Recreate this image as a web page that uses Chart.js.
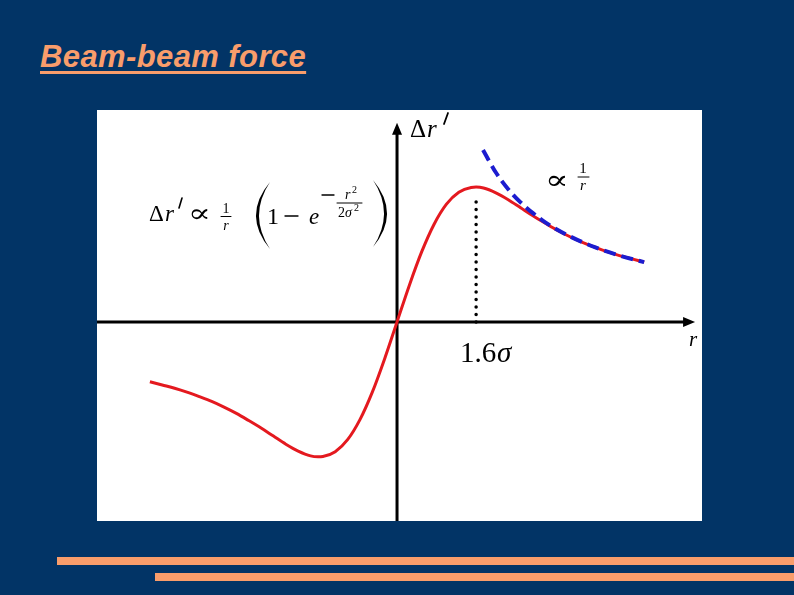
<!DOCTYPE html>
<html>
<head>
<meta charset="utf-8">
<script src="https://cdn.jsdelivr.net/npm/chart.js@4.4.1/dist/chart.umd.min.js"></script>
<style>
  body { margin: 0; width: 794px; height: 595px; background: #023466; position: relative; overflow: hidden; }
  #title { position: absolute; left: 40px; top: 39px; font: italic bold 31px "Liberation Sans", Arial, sans-serif; letter-spacing: 0.4px; color: #f99d6b; text-decoration: underline; text-decoration-thickness: 3px; text-underline-offset: 4px; }
  #plot { position: absolute; left: 97px; top: 110px; width: 605px; height: 411px; background: #fff; }
  .bar { position: absolute; right: 0; height: 8px; background: #f99d6b; }
</style>
</head>
<body>
<div id="title">Beam-beam force</div>
<div id="plot"><canvas id="c" width="605" height="411"></canvas></div>
<div class="bar" style="left:57px; top:557px;"></div>
<div class="bar" style="left:155px; top:573px;"></div>

<script>
// r in units of sigma, kick in arbitrary units
const rValues = [-5, -4.75, -4.5, -4.25, -4, -3.75, -3.5, -3.25, -3, -2.75, -2.5, -2.25, -2, -1.75, -1.6, -1.5, -1.25, -1, -0.75, -0.5, -0.25, 0,
  0.25, 0.5, 0.75, 1, 1.25, 1.5, 1.6, 1.75, 2, 2.25, 2.5, 2.75, 3, 3.25, 3.5, 3.75, 4, 4.25, 4.5, 4.75, 5];
const kick = [-0.200, -0.211, -0.222, -0.235, -0.250, -0.266, -0.285, -0.306, -0.330, -0.355, -0.382, -0.409, -0.432, -0.448, -0.451, -0.450, -0.434, -0.394, -0.327, -0.235, -0.123, 0,
  0.123, 0.235, 0.327, 0.394, 0.434, 0.450, 0.451, 0.448, 0.432, 0.409, 0.382, 0.355, 0.330, 0.306, 0.285, 0.266, 0.250, 0.235, 0.222, 0.211, 0.200];

const rTail = [1.74, 2, 2.25, 2.5, 2.75, 3, 3.5, 4, 4.5, 5];
const tail = [0.575, 0.500, 0.444, 0.400, 0.364, 0.333, 0.286, 0.250, 0.222, 0.200];

const peakR = 1.6;
const peakLine = [0, 0.425];

const xRange = [-6.07, 6.17];
const yRange = [-0.666, 0.709];
const axisEnds = { x: 6.03, y: 0.666 };

const pts = (xs, ys) => xs.map((x, i) => ({ x: x, y: ys[i] }));

const axesPlugin = {
  id: 'axes',
  beforeDatasetsDraw(chart) {
    const ctx = chart.ctx, xs = chart.scales.x, ys = chart.scales.y;
    const x0 = xs.getPixelForValue(0), y0 = ys.getPixelForValue(0);
    const xt = xs.getPixelForValue(axisEnds.x), yt = ys.getPixelForValue(axisEnds.y);
    ctx.save();
    ctx.strokeStyle = '#000';
    ctx.fillStyle = '#000';
    ctx.lineWidth = 3;
    ctx.beginPath();
    ctx.moveTo(chart.chartArea.left, y0); ctx.lineTo(xt - 8, y0);
    ctx.moveTo(x0, chart.chartArea.bottom); ctx.lineTo(x0, yt + 8);
    ctx.stroke();
    ctx.beginPath();
    ctx.moveTo(xt, y0); ctx.lineTo(xt - 12, y0 - 5); ctx.lineTo(xt - 12, y0 + 5); ctx.closePath();
    ctx.moveTo(x0, yt); ctx.lineTo(x0 - 5, yt + 12); ctx.lineTo(x0 + 5, yt + 12); ctx.closePath();
    ctx.fill();
    ctx.restore();
  }
};

// math labels, positions in page pixels (plot box starts at 97,110)
const labelsPlugin = {
  id: 'labels',
  afterDraw(chart) {
    const ctx = chart.ctx;
    const ox = 97, oy = 110;
    const t = (s, x, y, size, it, align) => {
      ctx.font = (it ? 'italic ' : '') + size + 'px "Liberation Serif", "DejaVu Serif", serif';
      ctx.textAlign = align || 'left';
      ctx.fillText(s, x - ox, y - oy);
    };
    const line = (x1, y1, x2, y2, w) => {
      ctx.lineWidth = w || 1;
      ctx.beginPath(); ctx.moveTo(x1 - ox, y1 - oy); ctx.lineTo(x2 - ox, y2 - oy); ctx.stroke();
    };
    const hline = (x1, x2, y, w) => line(x1, y, x2, y, w);
    const paren = (x, y1, y2, bulge, w) => {
      const my = (y1 + y2) / 2;
      ctx.beginPath();
      ctx.moveTo(x - ox, y1 - oy);
      ctx.quadraticCurveTo(x - bulge - ox, my - oy, x - ox, y2 - oy);
      ctx.quadraticCurveTo(x - bulge + w * 2 * Math.sign(bulge) - ox, my - oy, x - ox, y1 - oy);
      ctx.fill();
    };
    const prop = (x, y, sx, size) => {
      ctx.save();
      ctx.translate(x - ox, y - oy);
      ctx.scale(sx, 1);
      ctx.font = size + 'px "DejaVu Serif", serif';
      ctx.textAlign = 'left';
      ctx.fillText('\u221d', 0, 0);
      ctx.restore();
    };
    ctx.save();
    ctx.fillStyle = '#000';
    ctx.strokeStyle = '#000';
    ctx.lineCap = 'round';
    ctx.textBaseline = 'alphabetic';

    // axis label Δr'
    t('\u0394', 410, 137, 25, false);
    t('r', 427, 137, 25, true);
    line(448, 113, 444, 124, 1.8);

    // ∝ 1/r
    prop(545, 189, 1.3, 27);
    t('1', 583, 173, 15, false, 'center');
    hline(578, 589, 177, 1);
    t('r', 583, 190, 15, true, 'center');

    // 1.6σ
    t('1.6', 460, 362, 29, false);
    t('\u03c3', 497, 362, 29, true);

    // r
    t('r', 689, 346, 21, true);

    // formula
    t('\u0394', 149, 221, 23, false);
    t('r', 165, 221, 23, true);
    line(182, 198, 179, 208, 1.6);
    prop(188, 222, 1.3, 26);
    t('1', 226, 213, 14, false, 'center');
    hline(221, 231, 216.5, 1);
    t('r', 226, 230, 14, true, 'center');
    paren(270, 182, 249, 28, 3);
    t('1', 267, 224, 24, false);
    hline(285, 298, 216, 1.3);
    t('e', 309, 224, 23, true);
    hline(322, 334, 195, 1.3);
    t('r', 345, 199, 14, true);
    t('2', 352, 193, 10, false);
    hline(337, 362, 203, 1);
    t('2', 338, 217, 14, false);
    t('\u03c3', 345, 217, 14, true);
    t('2', 354, 211, 10, false);
    paren(373, 180, 247, -28, 3);

    ctx.restore();
  }
};

new Chart(document.getElementById('c'), {
  type: 'scatter',
  data: {
    datasets: [
      { data: pts(rTail, tail), showLine: true, borderColor: '#1c1ccf', borderWidth: 4, borderDash: [12, 6],
        pointRadius: 0, cubicInterpolationMode: 'monotone' },
      { data: pts(rValues, kick), showLine: true, borderColor: '#e4191f', borderWidth: 3,
        pointRadius: 0, cubicInterpolationMode: 'monotone' },
      { data: pts([peakR, peakR], peakLine), showLine: true, borderColor: '#000', borderWidth: 3.5,
        borderDash: [0, 7.5], borderCapStyle: 'round', pointRadius: 0 }
    ]
  },
  options: {
    responsive: false,
    animation: false,
    layout: { padding: 0 },
    plugins: { legend: { display: false }, tooltip: { enabled: false } },
    scales: {
      x: { type: 'linear', min: xRange[0], max: xRange[1], display: false },
      y: { type: 'linear', min: yRange[0], max: yRange[1], display: false }
    }
  },
  plugins: [axesPlugin, labelsPlugin]
});
</script>
</body>
</html>
